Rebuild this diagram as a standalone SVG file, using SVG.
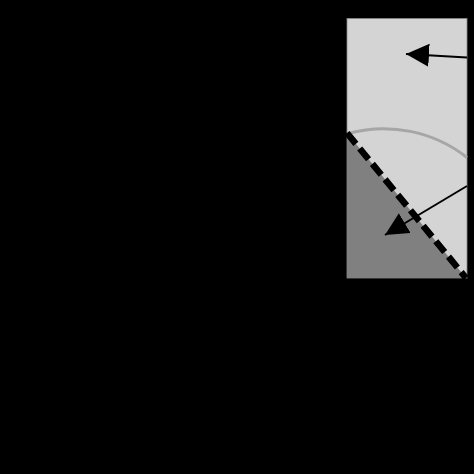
<svg xmlns="http://www.w3.org/2000/svg" width="474" height="474" viewBox="0 0 474 474">
  <style>
    .bg { fill: #000000; }
    .light { fill: #d4d4d4; stroke: #888888; stroke-width: 0.8; }
    .dark { fill: #808080; }
    .arc { fill: none; stroke: #a6a6a6; stroke-width: 3; }
    .dash { fill: none; stroke: #000000; stroke-width: 6.5; stroke-dasharray: 14 6; }
    .conn { fill: none; stroke: #000000; stroke-width: 2; marker-end: url(#head); }
  </style>
  <defs>
    <marker id="head" markerUnits="userSpaceOnUse" markerWidth="25" markerHeight="25" refX="23" refY="11.5" orient="auto">
      <path d="M0,0 L23,11.5 L0,23 Z" fill="#000000"/>
    </marker>
  </defs>
  <rect class="bg" x="0" y="0" width="474" height="474"/>
  <g id="panel">
    <rect class="light" x="347" y="18.5" width="120" height="259.5"/>
    <polygon class="dark" points="347,133 466,278 347,278"/>
    <path class="arc" d="M348,133.5 A135,135 0 0 1 467,157.5"/>
    <line class="dash" x1="347" y1="133" x2="466" y2="278"/>
  </g>
  <g id="connectors">
    <line class="conn" x1="467" y1="57.5" x2="406" y2="54"/>
    <line class="conn" x1="467" y1="186" x2="385" y2="235"/>
  </g>
</svg>
